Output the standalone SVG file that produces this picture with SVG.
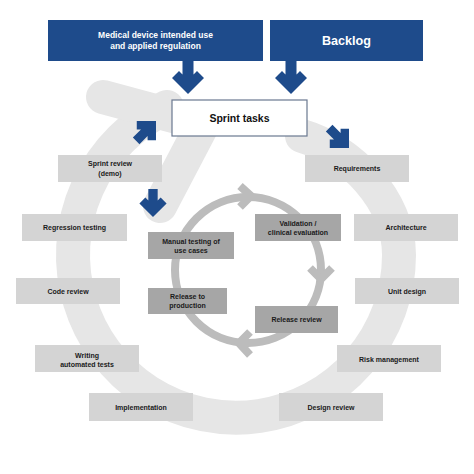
<svg xmlns="http://www.w3.org/2000/svg" xmlns:xlink="http://www.w3.org/1999/xlink" width="474" height="474" viewBox="0 0 474 474">
<defs>
<style>
.band{fill:none;stroke:#e6e6e6;stroke-width:34;stroke-linecap:round;stroke-linejoin:round}
.inner{fill:none;stroke:#bcbcbc;stroke-width:8}
.chev{fill:none;stroke:#bcbcbc;stroke-width:8;stroke-linecap:butt;stroke-linejoin:miter}
.light{fill:#d4d4d4}
.dark{fill:#a6a6a6}
.blue{fill:#1e4b8b}
.lbl{font-family:"Liberation Sans",Arial,sans-serif;font-weight:bold;font-size:7px;fill:#1a1a1a;text-anchor:middle}
.top{font-family:"Liberation Sans",Arial,sans-serif;font-weight:bold;fill:#ffffff;text-anchor:middle}
</style>
<path id="arr" d="M0,0 L16,-16 L9,-23 L5.5,-19.5 L5.5,-33 L-5.5,-33 L-5.5,-19.5 L-9,-23 L-16,-16 Z"/>
</defs>
<rect width="474" height="474" fill="#ffffff"/>
<g id="background-ring">
<path class="band" d="M302,136 C350,150 399,200 399,255 A163,163 0 1 1 167,107"/>
<path class="band" d="M103,97 L203,124 L160,206"/>
</g>
<g id="inner-cycle">
<circle class="inner" cx="248" cy="270" r="73"/>
<polyline class="chev" points="240,186 251,196 240,207"/>
<polyline class="chev" points="310,268 321,279 332,268"/>
<polyline class="chev" points="250,332 239,343 250,355"/>
</g>
<g id="node-medical">
<rect class="blue" x="48" y="20" width="215" height="41"/>
<text class="top" font-size="8.5" x="155.5" y="38">Medical device intended use</text>
<text class="top" font-size="8.5" x="155.5" y="49">and applied regulation</text>
</g>
<g id="node-backlog">
<rect class="blue" x="270" y="20" width="153" height="41"/>
<text class="top" font-size="12.6" x="346.5" y="45">Backlog</text>
</g>
<g id="node-sprint-tasks">
<rect x="172" y="100" width="135" height="36" fill="#ffffff" stroke="#6a7890" stroke-width="1.2"/>
<text class="lbl" style="font-size:10.5px;fill:#111" x="239.5" y="122">Sprint tasks</text>
</g>
<g id="node-sprint-review">
<rect class="light" x="58" y="155" width="104" height="27"/>
<text class="lbl" x="110" y="165.5">Sprint review</text>
<text class="lbl" x="110" y="175.5">(demo)</text>
</g>
<g id="node-requirements">
<rect class="light" x="305" y="155" width="104" height="27"/>
<text class="lbl" x="357" y="170.5">Requirements</text>
</g>
<g id="node-regression">
<rect class="light" x="22" y="214" width="105" height="27"/>
<text class="lbl" x="74.5" y="229.5">Regression testing</text>
</g>
<g id="node-architecture">
<rect class="light" x="354" y="214" width="104" height="27"/>
<text class="lbl" x="406" y="229.5">Architecture</text>
</g>
<g id="node-code-review">
<rect class="light" x="16" y="278" width="104" height="26"/>
<text class="lbl" x="68" y="293.5">Code review</text>
</g>
<g id="node-unit-design">
<rect class="light" x="355" y="278" width="104" height="26"/>
<text class="lbl" x="407" y="293.5">Unit design</text>
</g>
<g id="node-writing-tests">
<rect class="light" x="35" y="345" width="104" height="27"/>
<text class="lbl" x="87" y="357.5">Writing</text>
<text class="lbl" x="87" y="366.5">automated tests</text>
</g>
<g id="node-risk">
<rect class="light" x="337" y="345" width="104" height="27"/>
<text class="lbl" x="389" y="361.5">Risk management</text>
</g>
<g id="node-implementation">
<rect class="light" x="89" y="393" width="104" height="28"/>
<text class="lbl" x="141" y="409.5">Implementation</text>
</g>
<g id="node-design-review">
<rect class="light" x="279" y="393" width="104" height="28"/>
<text class="lbl" x="331" y="409.5">Design review</text>
</g>
<g id="node-manual-testing">
<rect class="dark" x="148" y="232" width="86" height="27"/>
<text class="lbl" x="191" y="243.5">Manual testing of</text>
<text class="lbl" x="191" y="252.5">use cases</text>
</g>
<g id="node-validation">
<rect class="dark" x="255" y="214" width="86" height="27"/>
<text class="lbl" x="298" y="225.5">Validation /</text>
<text class="lbl" x="298" y="234.5">clinical evaluation</text>
</g>
<g id="node-release-production">
<rect class="dark" x="148" y="288" width="79" height="26"/>
<text class="lbl" x="187.5" y="298.5">Release to</text>
<text class="lbl" x="187.5" y="307.5">production</text>
</g>
<g id="node-release-review">
<rect class="dark" x="255" y="306" width="83" height="27"/>
<text class="lbl" x="296.5" y="321.5">Release review</text>
</g>
<g id="connectors">
<use xlink:href="#arr" class="blue" transform="translate(188,94)"/>
<use xlink:href="#arr" class="blue" transform="translate(291,94)"/>
<use xlink:href="#arr" class="blue" transform="translate(156,121) rotate(-135) scale(0.85)"/>
<use xlink:href="#arr" class="blue" transform="translate(349,148) rotate(-45) scale(0.85)"/>
<use xlink:href="#arr" class="blue" transform="translate(153,217) scale(0.85)"/>
</g>
</svg>
